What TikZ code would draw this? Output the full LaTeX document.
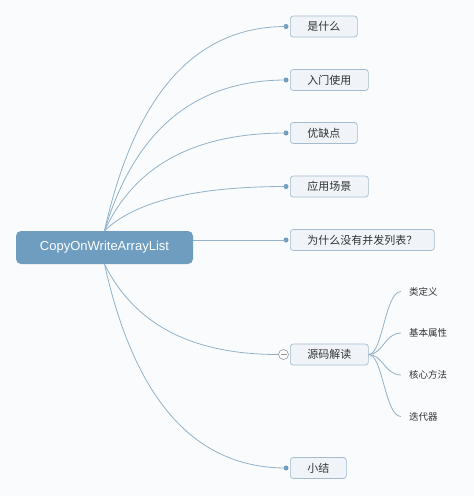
\documentclass[tikz,border=0pt]{standalone}
\usepackage{fontspec}
\setmainfont{Liberation Sans}
\newfontfamily\cjk{Noto Sans CJK SC}
\definecolor{bg}{HTML}{FAFBFC}
\definecolor{rootfill}{HTML}{6F9DBF}
\definecolor{boxfill}{HTML}{F0F4F8}
\definecolor{boxdraw}{HTML}{A3BCD1}
\definecolor{linec}{HTML}{93B2C9}
\definecolor{dotc}{HTML}{6F9BBD}
\definecolor{txt}{HTML}{333333}
\begin{document}
\begin{tikzpicture}[x=1pt,y=-1pt,
  rootbox/.style={fill=rootfill,draw=none,rounded corners=5pt,minimum width=177pt,minimum height=33pt,inner sep=0pt,text=white,font=\fontsize{13}{15}\selectfont},
  topic/.style={fill=boxfill,draw=boxdraw,line width=0.7pt,rounded corners=3pt,minimum height=21pt,inner xsep=17pt,inner ysep=0pt,anchor=west,text=txt,font=\cjk\fontsize{11}{13}\selectfont},
  sub/.style={anchor=west,inner sep=0pt,text=txt,font=\cjk\fontsize{9.5}{11}\selectfont},
  dotn/.style={circle,fill=dotc,inner sep=0pt,minimum size=5pt},
  conn/.style={draw=linec,line width=0.8pt},
  collapse/.style={circle,draw=gray!80,fill=white,line width=0.6pt,inner sep=0pt,minimum size=10pt}
]
\path[use as bounding box,fill=bg] (0,0) rectangle (474,496);

\node[rootbox] (root) at (104.5,247.5) {CopyOnWriteArrayList};

\node[topic] (t1) at (290,26.5) {是什么};
\node[topic] (t2) at (290,80) {入门使用};
\node[topic] (t3) at (290,133) {优缺点};
\node[topic] (t4) at (290,186.5) {应用场景};
\node[topic] (t5) at (290,240) {为什么没有并发列表？};
\node[topic] (t6) at (290,354.5) {源码解读};
\node[topic] (t7) at (290,468) {小结};

\node[dotn] (d1) at (286,26.5) {};
\node[dotn] (d2) at (286,80) {};
\node[dotn] (d3) at (286,133) {};
\node[dotn] (d4) at (286,186.5) {};
\node[dotn] (d5) at (286,240) {};
\node[dotn] (d7) at (286,468) {};

% upper connectors
\draw[conn] (root.north) .. controls +(25,-112) and +(-106,0) .. (d1.center);
\draw[conn] (root.north) .. controls +(25,-83) and +(-106,0) .. (d2.center);
\draw[conn] (root.north) .. controls +(25,-54) and +(-106,0) .. (d3.center);
\draw[conn] (root.north) .. controls +(25,-24) and +(-106,0) .. (d4.center);
\draw[conn] (d5.center) -- (d5.center -| root.east);

% lower connectors
\node[collapse] (c6) at (283.5,354.5) {};
\draw[conn] (root.south) .. controls +(25,50) and +(-100,0) .. (c6.west);
\draw[gray!80,line width=0.6pt] ([xshift=-3pt]c6.center) -- ([xshift=3pt]c6.center);
\draw[conn] (root.south) .. controls +(25,112) and +(-106,0) .. (d7.center);

% sub topics
\node[sub] (s1) at (409,291.5) {类定义};
\node[sub] (s2) at (409,333) {基本属性};
\node[sub] (s3) at (409,375) {核心方法};
\node[sub] (s4) at (409,416.5) {迭代器};
\coordinate (e1) at (401,291.5);
\coordinate (e2) at (401,333);
\coordinate (e3) at (401,375);
\coordinate (e4) at (401,416.5);
\draw[conn] (t6.east) .. controls +(14,0) and +(-16,0) .. (e1);
\draw[conn] (t6.east) .. controls +(14,0) and +(-16,0) .. (e2);
\draw[conn] (t6.east) .. controls +(14,0) and +(-16,0) .. (e3);
\draw[conn] (t6.east) .. controls +(14,0) and +(-16,0) .. (e4);
\end{tikzpicture}
\end{document}
